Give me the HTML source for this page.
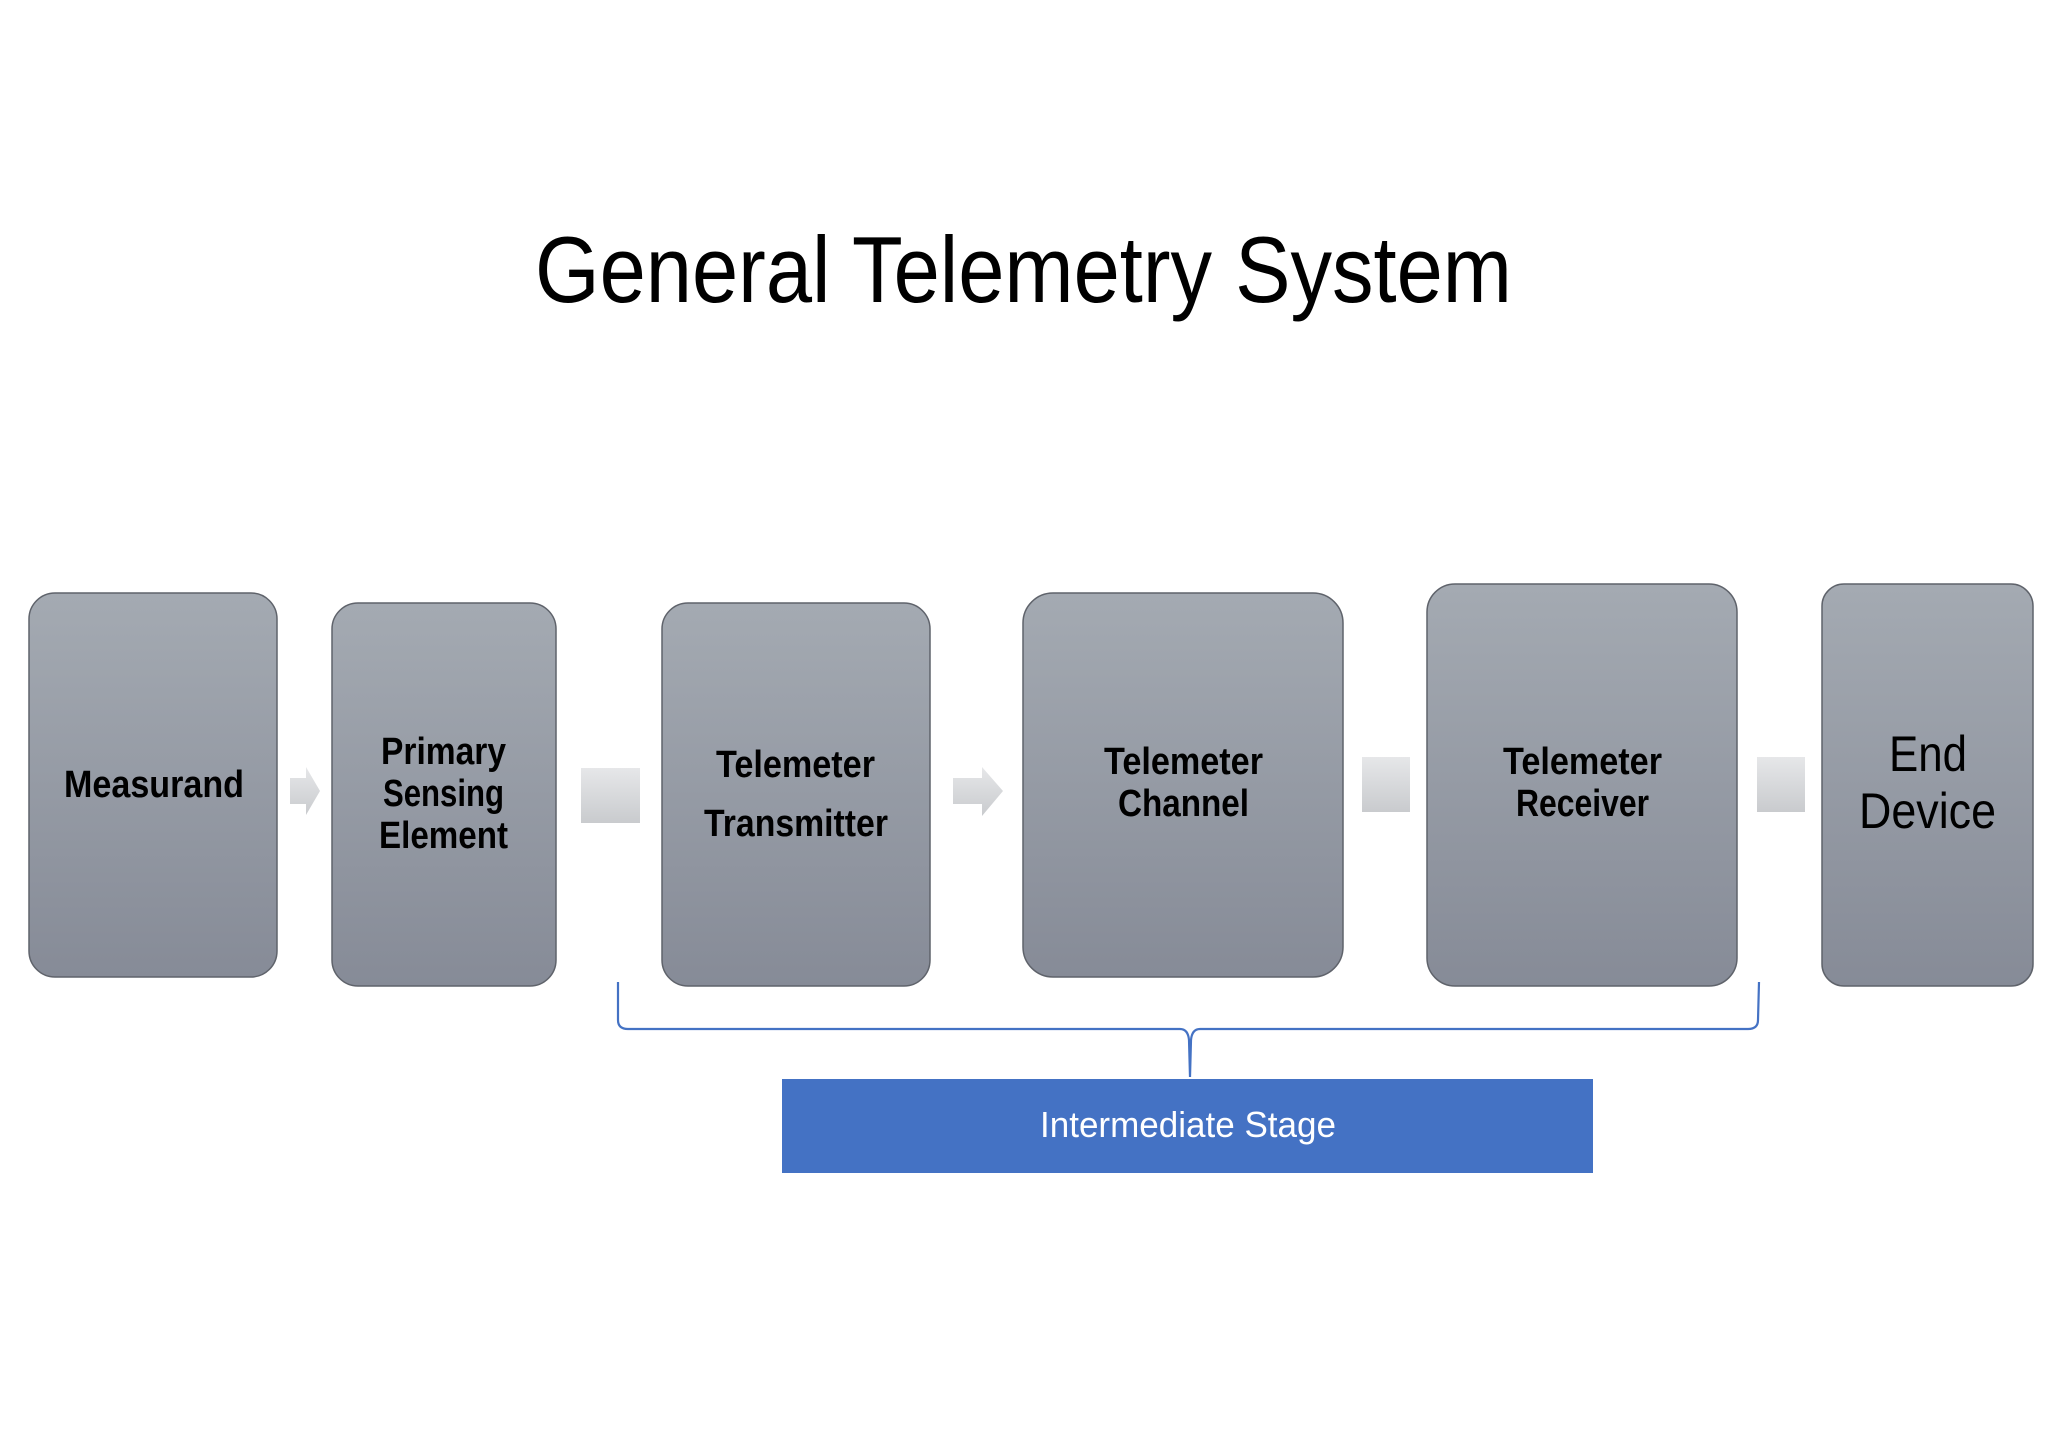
<!DOCTYPE html>
<html><head><meta charset="utf-8"><style>html,body{margin:0;padding:0;background:#fff}svg{display:block}</style></head>
<body>
<svg width="2048" height="1447" viewBox="0 0 2048 1447" xmlns="http://www.w3.org/2000/svg">
<defs>
<linearGradient id="g" x1="0" y1="0" x2="0" y2="1">
<stop offset="0" stop-color="#a4aab2"/><stop offset="1" stop-color="#868b97"/></linearGradient>
<linearGradient id="c" x1="0" y1="0" x2="0" y2="1">
<stop offset="0" stop-color="#e6e7e9"/><stop offset="1" stop-color="#c9cbce"/></linearGradient>
</defs>
<text x="535" y="302" font-family="Liberation Sans, sans-serif" font-size="94" textLength="977" lengthAdjust="spacingAndGlyphs" fill="#000">General Telemetry System</text>
<g fill="url(#g)" stroke="#5f636b" stroke-width="1.5">
<rect x="29" y="593" width="248" height="384" rx="26"/>
<rect x="332" y="603" width="224" height="383" rx="26"/>
<rect x="662" y="603" width="268" height="383" rx="26"/>
<rect x="1023" y="593" width="320" height="384" rx="30"/>
<rect x="1427" y="584" width="310" height="402" rx="28"/>
<rect x="1822" y="584" width="211" height="402" rx="22"/>
</g>
<g fill="url(#c)">
<polygon points="290,778 306,778 306,767 320,791 306,815 306,804 290,804"/>
<rect x="581" y="768" width="59" height="55"/>
<polygon points="953,778 982,778 982,767 1003,791 982,816 982,804 953,804"/>
<rect x="1362" y="757" width="48" height="55"/>
<rect x="1757" y="757" width="48" height="55"/>
</g>
<g font-family="Liberation Sans, sans-serif" font-weight="bold" font-size="38" fill="#000" lengthAdjust="spacingAndGlyphs">
<text x="64" y="797" textLength="180" lengthAdjust="spacingAndGlyphs">Measurand</text>
<text x="381" y="764" textLength="125" lengthAdjust="spacingAndGlyphs">Primary</text>
<text x="383" y="806" textLength="121" lengthAdjust="spacingAndGlyphs">Sensing</text>
<text x="379" y="848" textLength="129" lengthAdjust="spacingAndGlyphs">Element</text>
<text x="716" y="777" textLength="159" lengthAdjust="spacingAndGlyphs">Telemeter</text>
<text x="704" y="836" textLength="184" lengthAdjust="spacingAndGlyphs">Transmitter</text>
<text x="1104" y="774" textLength="159" lengthAdjust="spacingAndGlyphs">Telemeter</text>
<text x="1118" y="816" textLength="131" lengthAdjust="spacingAndGlyphs">Channel</text>
<text x="1503" y="774" textLength="159" lengthAdjust="spacingAndGlyphs">Telemeter</text>
<text x="1516" y="816" textLength="133" lengthAdjust="spacingAndGlyphs">Receiver</text>
</g>
<g font-family="Liberation Sans, sans-serif" font-size="50" fill="#000">
<text x="1889" y="771" textLength="78" lengthAdjust="spacingAndGlyphs">End</text>
<text x="1859" y="828" textLength="137" lengthAdjust="spacingAndGlyphs">Device</text>
</g>
<path d="M618,982 L618,1020 Q618,1029 628,1029 L1180,1029 Q1188,1029 1189,1040 L1190,1077 L1191,1040 Q1192,1029 1200,1029 L1748,1029 Q1758,1029 1758,1020 L1759,982" fill="none" stroke="#4472c4" stroke-width="2.2"/>
<rect x="782" y="1079" width="811" height="94" fill="#4472c4"/>
<text x="1040" y="1137" font-family="Liberation Sans, sans-serif" font-size="36" fill="#fff" textLength="296" lengthAdjust="spacingAndGlyphs">Intermediate Stage</text>
</svg>
</body></html>
